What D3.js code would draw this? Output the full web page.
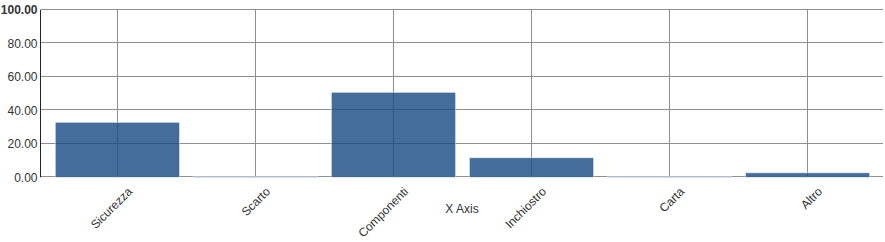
<!DOCTYPE html>
<html><head><meta charset="utf-8">
<script src="https://cdn.jsdelivr.net/npm/d3@7"></script>
<style>
body{margin:0;background:#fff;}
text{font-family:"Liberation Sans",Arial,sans-serif;font-size:12px;fill:#333;}
</style></head>
<body><svg id="c" width="885" height="242"></svg>
<script>
const categories = ["Sicurezza","Scarto","Componenti","Inchiostro","Carta","Altro"];
const values = [32.8, 0.5, 50.7, 11.7, 0.5, 2.7];
const yTicks = [0,20,40,60,80,100];
const xTitle = "X Axis";

const svg = d3.select("#c");
const mLeft = 41, mRight = 883, mTop = 9.7, mBottom = 177.3;
const x = d3.scaleBand().domain(categories).range([mLeft, mRight]).paddingInner(0.1).paddingOuter(0.1);
const y = d3.scaleLinear().domain([0,100]).range([mBottom, mTop]);

const crisp = v => Math.round(v) + 0.5;

// grid (under bars)
const grid = svg.append("g").attr("stroke", "#8f8f8f").attr("stroke-width", 1);
grid.selectAll("line.h").data(yTicks).join("line").attr("class","h")
  .attr("x1", mLeft).attr("x2", mRight)
  .attr("y1", d => crisp(y(d))-1).attr("y2", d => crisp(y(d))-1);
grid.selectAll("line.v").data(categories).join("line").attr("class","v")
  .attr("x1", d => crisp(x(d) + x.bandwidth()/2)).attr("x2", d => crisp(x(d) + x.bandwidth()/2))
  .attr("y1", mTop).attr("y2", mBottom);

// bars
svg.append("g").selectAll("rect").data(categories).join("rect")
  .attr("x", d => x(d) + 0.5)
  .attr("width", x.bandwidth())
  .attr("y", (d,i) => y(values[i]))
  .attr("height", (d,i) => Math.max(1, y(0) - y(values[i])))
  .attr("fill", "#154882")
  .attr("fill-opacity", 0.8)
  .attr("stroke", "#fff")
  .attr("stroke-opacity", 0.55)
  .attr("stroke-width", 1);

// y axis
const yAxis = svg.append("g").attr("transform", `translate(${crisp(mLeft)-1},0)`)
  .call(d3.axisLeft(y).tickValues(yTicks).tickFormat(d3.format(".2f")).tickSize(0).tickPadding(3));
yAxis.select(".domain").attr("stroke", "#222").attr("d", `M0,${mTop}V${mBottom}`);
yAxis.selectAll("text").attr("font-size", 12).attr("fill", "#222").attr("font-family", "Liberation Sans, Arial, sans-serif")
  .attr("dy", "0.35em")
  .attr("font-weight", d => d === 100 ? "bold" : "normal");

// x labels
svg.append("g").selectAll("text").data(categories).join("text")
  .attr("text-anchor", "end")
  .attr("transform", d => `translate(${x(d) + x.bandwidth()/2 + 16},${mBottom + 15}) rotate(-45)`)
  .text(d => d);

svg.append("text").attr("x", (mLeft+mRight)/2).attr("y", 213).attr("text-anchor","middle").attr("fill","#222").text(xTitle);
</script></body></html>
